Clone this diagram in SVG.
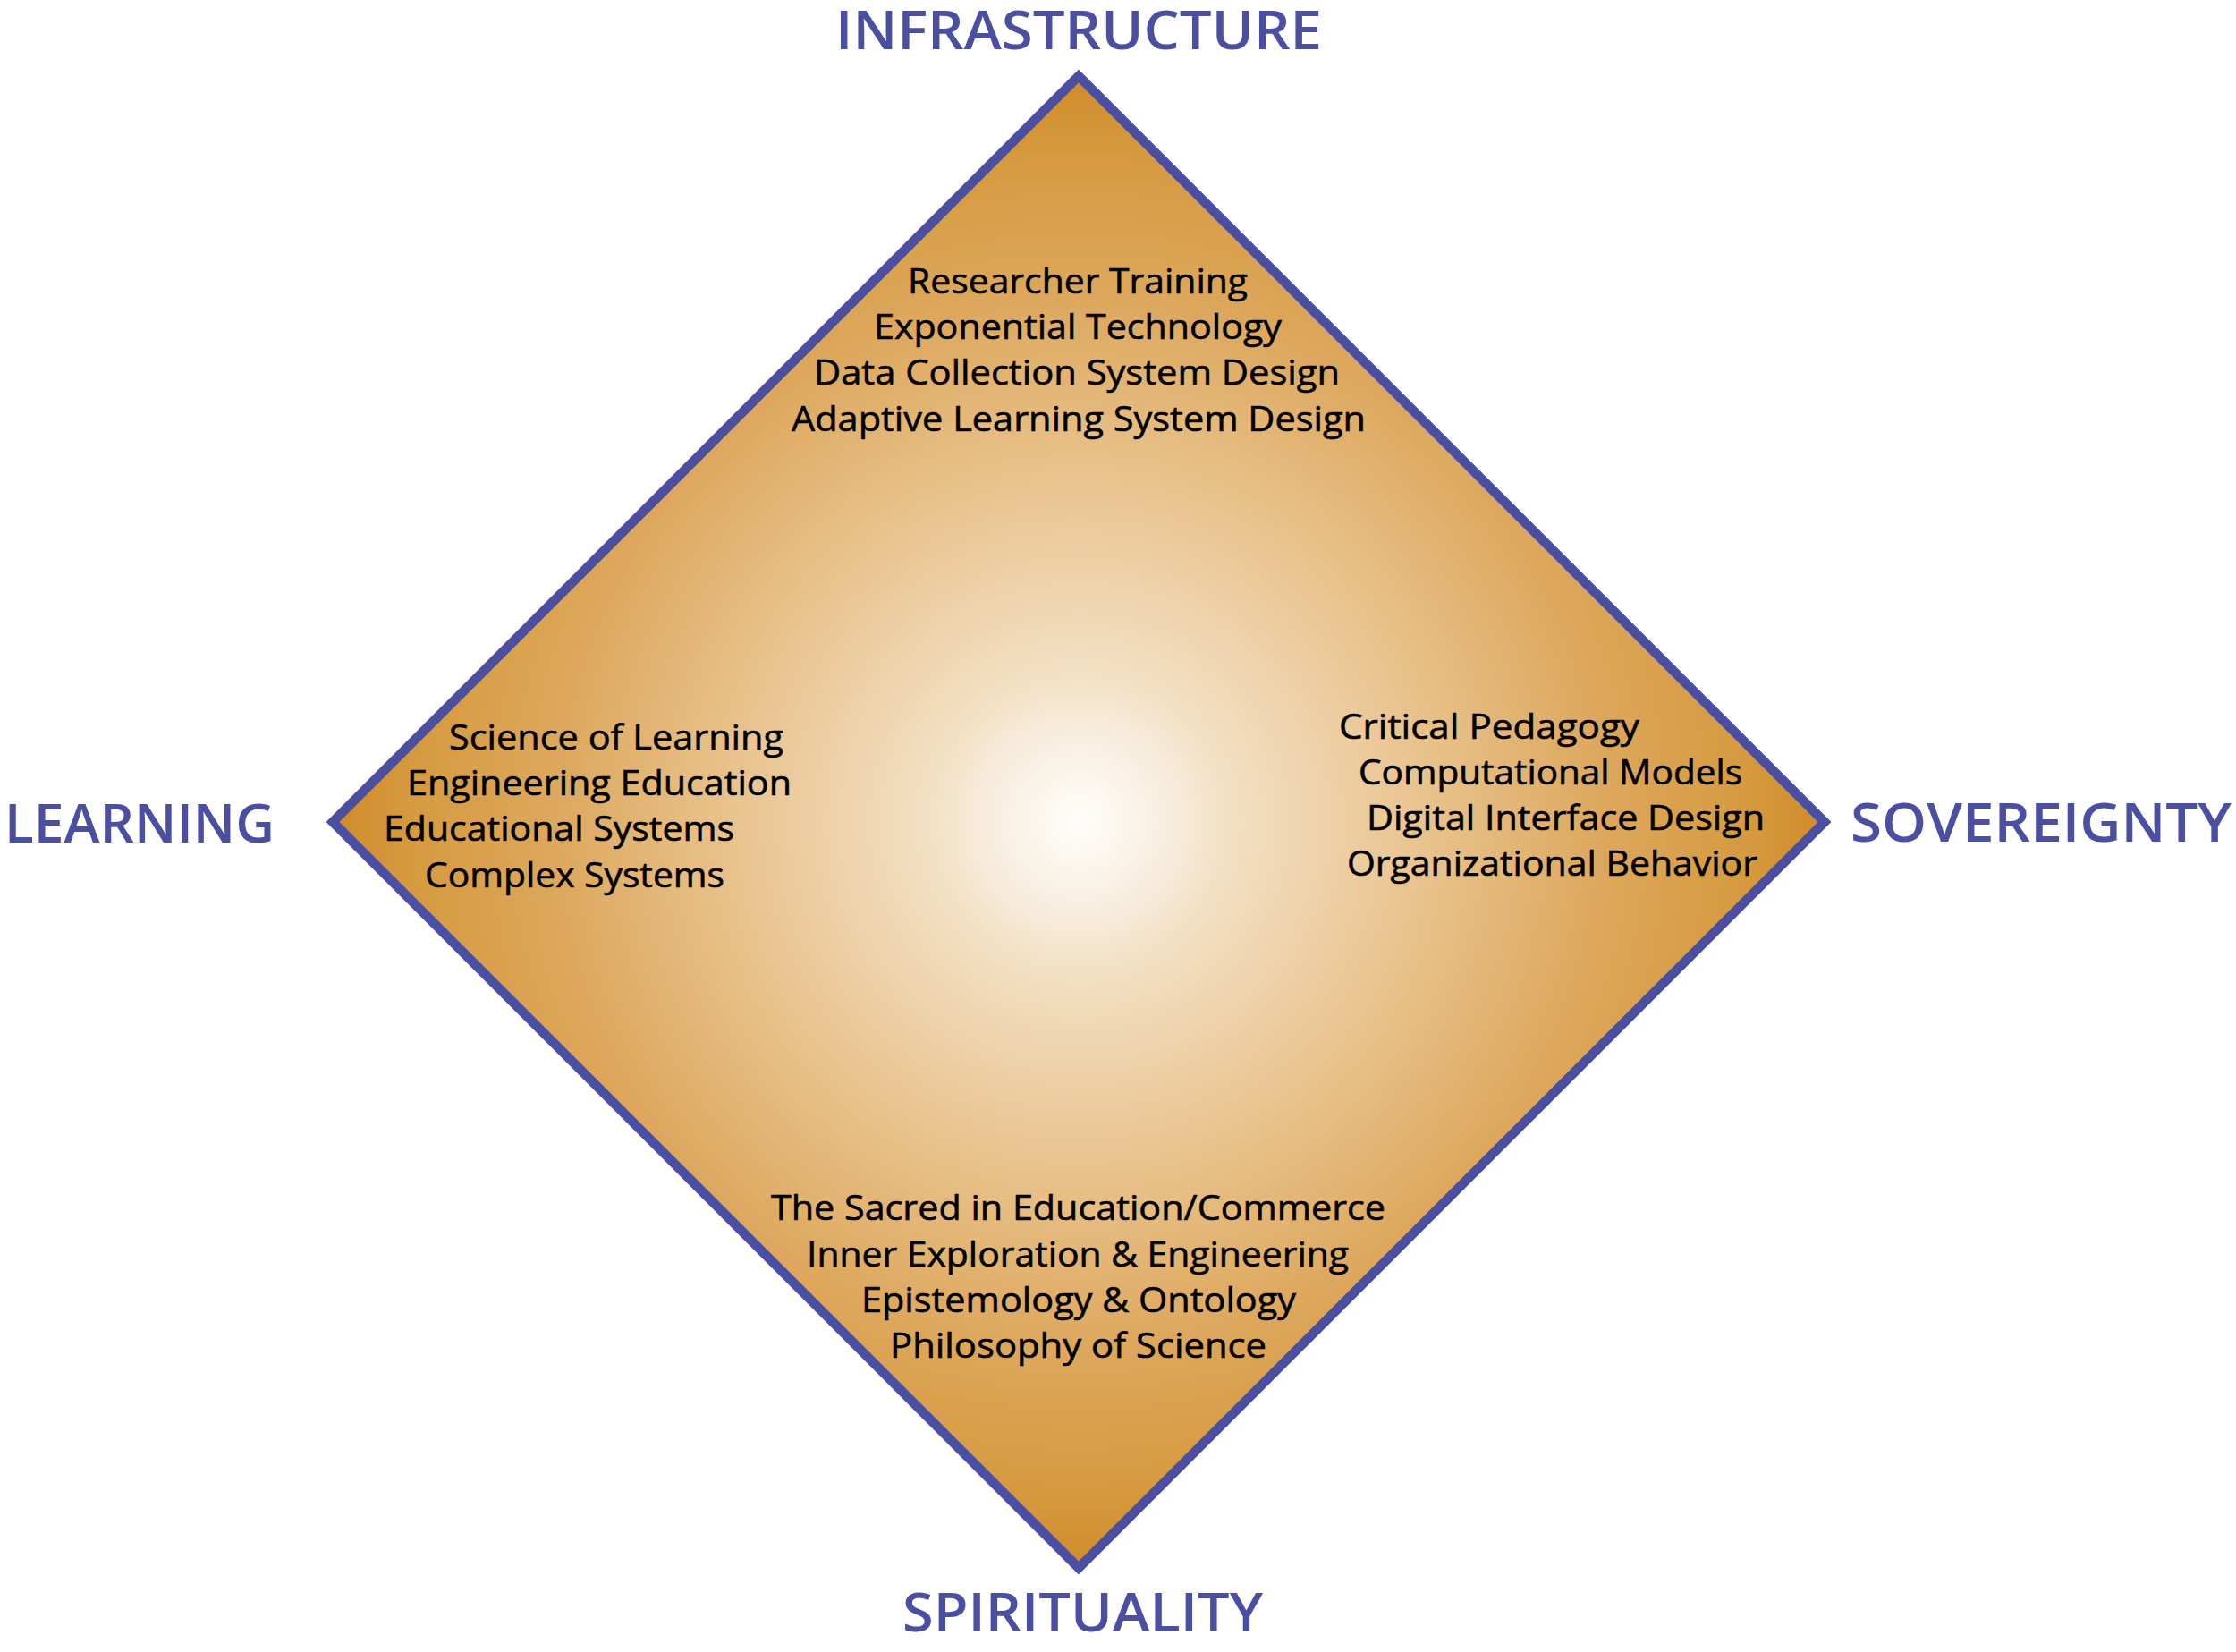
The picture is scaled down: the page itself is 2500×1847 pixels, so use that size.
<svg xmlns="http://www.w3.org/2000/svg" width="2500" height="1847" viewBox="0 0 2500 1847">
  <defs>
    <radialGradient id="glow" gradientUnits="userSpaceOnUse" cx="1206" cy="919" r="834">
      <stop offset="0" stop-color="#fffefb"/>
      <stop offset="0.13" stop-color="#f7ecdc"/>
      <stop offset="0.2" stop-color="#f3e0c4"/>
      <stop offset="0.5" stop-color="#e7bf86"/>
      <stop offset="0.7" stop-color="#dda85e"/>
      <stop offset="0.89" stop-color="#d69b40"/>
      <stop offset="1" stop-color="#d08b2b"/>
    </radialGradient>
    <style>
      .label { font-family: "Open Sans", "Liberation Sans", sans-serif; font-weight: 600; font-size: 60px; fill: #4a4fa2; }
      .item { font-family: "Open Sans", "Liberation Sans", sans-serif; font-weight: 400; font-size: 39px; fill: #000000; stroke: #000000; stroke-width: 0.6px; }
      .mid { text-anchor: middle; }
    </style>
  </defs>
  <rect width="2500" height="1847" fill="#ffffff"/>

  <g id="diamond">
    <path d="M1206,85 L2040,919 L1206,1753 L372,919 Z" fill="url(#glow)" stroke="#4a4fa2" stroke-width="10.5" stroke-linejoin="miter"/>
  </g>

  <g id="connectors"></g>

  <g id="label-infrastructure">
    <text class="label mid" x="1206" y="55" textLength="544" lengthAdjust="spacingAndGlyphs">INFRASTRUCTURE</text>
  </g>
  <g id="label-learning">
    <text class="label" x="5" y="942" textLength="302" lengthAdjust="spacingAndGlyphs">LEARNING</text>
  </g>
  <g id="label-sovereignty">
    <text class="label" x="2069" y="941" textLength="426" lengthAdjust="spacingAndGlyphs">SOVEREIGNTY</text>
  </g>
  <g id="label-spirituality">
    <text class="label" x="1009" y="1824" textLength="403" lengthAdjust="spacingAndGlyphs">SPIRITUALITY</text>
  </g>

  <g id="infrastructure-items">
    <text class="item" x="1015" y="328" textLength="380" lengthAdjust="spacingAndGlyphs">Researcher Training</text>
    <text class="item" x="977" y="379" textLength="456" lengthAdjust="spacingAndGlyphs">Exponential Technology</text>
    <text class="item" x="910" y="430" textLength="588" lengthAdjust="spacingAndGlyphs">Data Collection System Design</text>
    <text class="item" x="885" y="482" textLength="642" lengthAdjust="spacingAndGlyphs">Adaptive Learning System Design</text>
  </g>

  <g id="learning-items">
    <text class="item" x="502" y="838" textLength="374" lengthAdjust="spacingAndGlyphs">Science of Learning</text>
    <text class="item" x="455" y="889" textLength="430" lengthAdjust="spacingAndGlyphs">Engineering Education</text>
    <text class="item" x="429" y="940" textLength="392" lengthAdjust="spacingAndGlyphs">Educational Systems</text>
    <text class="item" x="475" y="992" textLength="335" lengthAdjust="spacingAndGlyphs">Complex Systems</text>
  </g>

  <g id="sovereignty-items">
    <text class="item" x="1497" y="826" textLength="336" lengthAdjust="spacingAndGlyphs">Critical Pedagogy</text>
    <text class="item" x="1519" y="877" textLength="429" lengthAdjust="spacingAndGlyphs">Computational Models</text>
    <text class="item" x="1528" y="928" textLength="445" lengthAdjust="spacingAndGlyphs">Digital Interface Design</text>
    <text class="item" x="1506" y="979" textLength="459" lengthAdjust="spacingAndGlyphs">Organizational Behavior</text>
  </g>

  <g id="spirituality-items">
    <text class="item" x="862" y="1364" textLength="687" lengthAdjust="spacingAndGlyphs">The Sacred in Education/Commerce</text>
    <text class="item" x="902" y="1416" textLength="606" lengthAdjust="spacingAndGlyphs">Inner Exploration &amp; Engineering</text>
    <text class="item" x="963" y="1467" textLength="486" lengthAdjust="spacingAndGlyphs">Epistemology &amp; Ontology</text>
    <text class="item" x="995" y="1518" textLength="421" lengthAdjust="spacingAndGlyphs">Philosophy of Science</text>
  </g>
</svg>
